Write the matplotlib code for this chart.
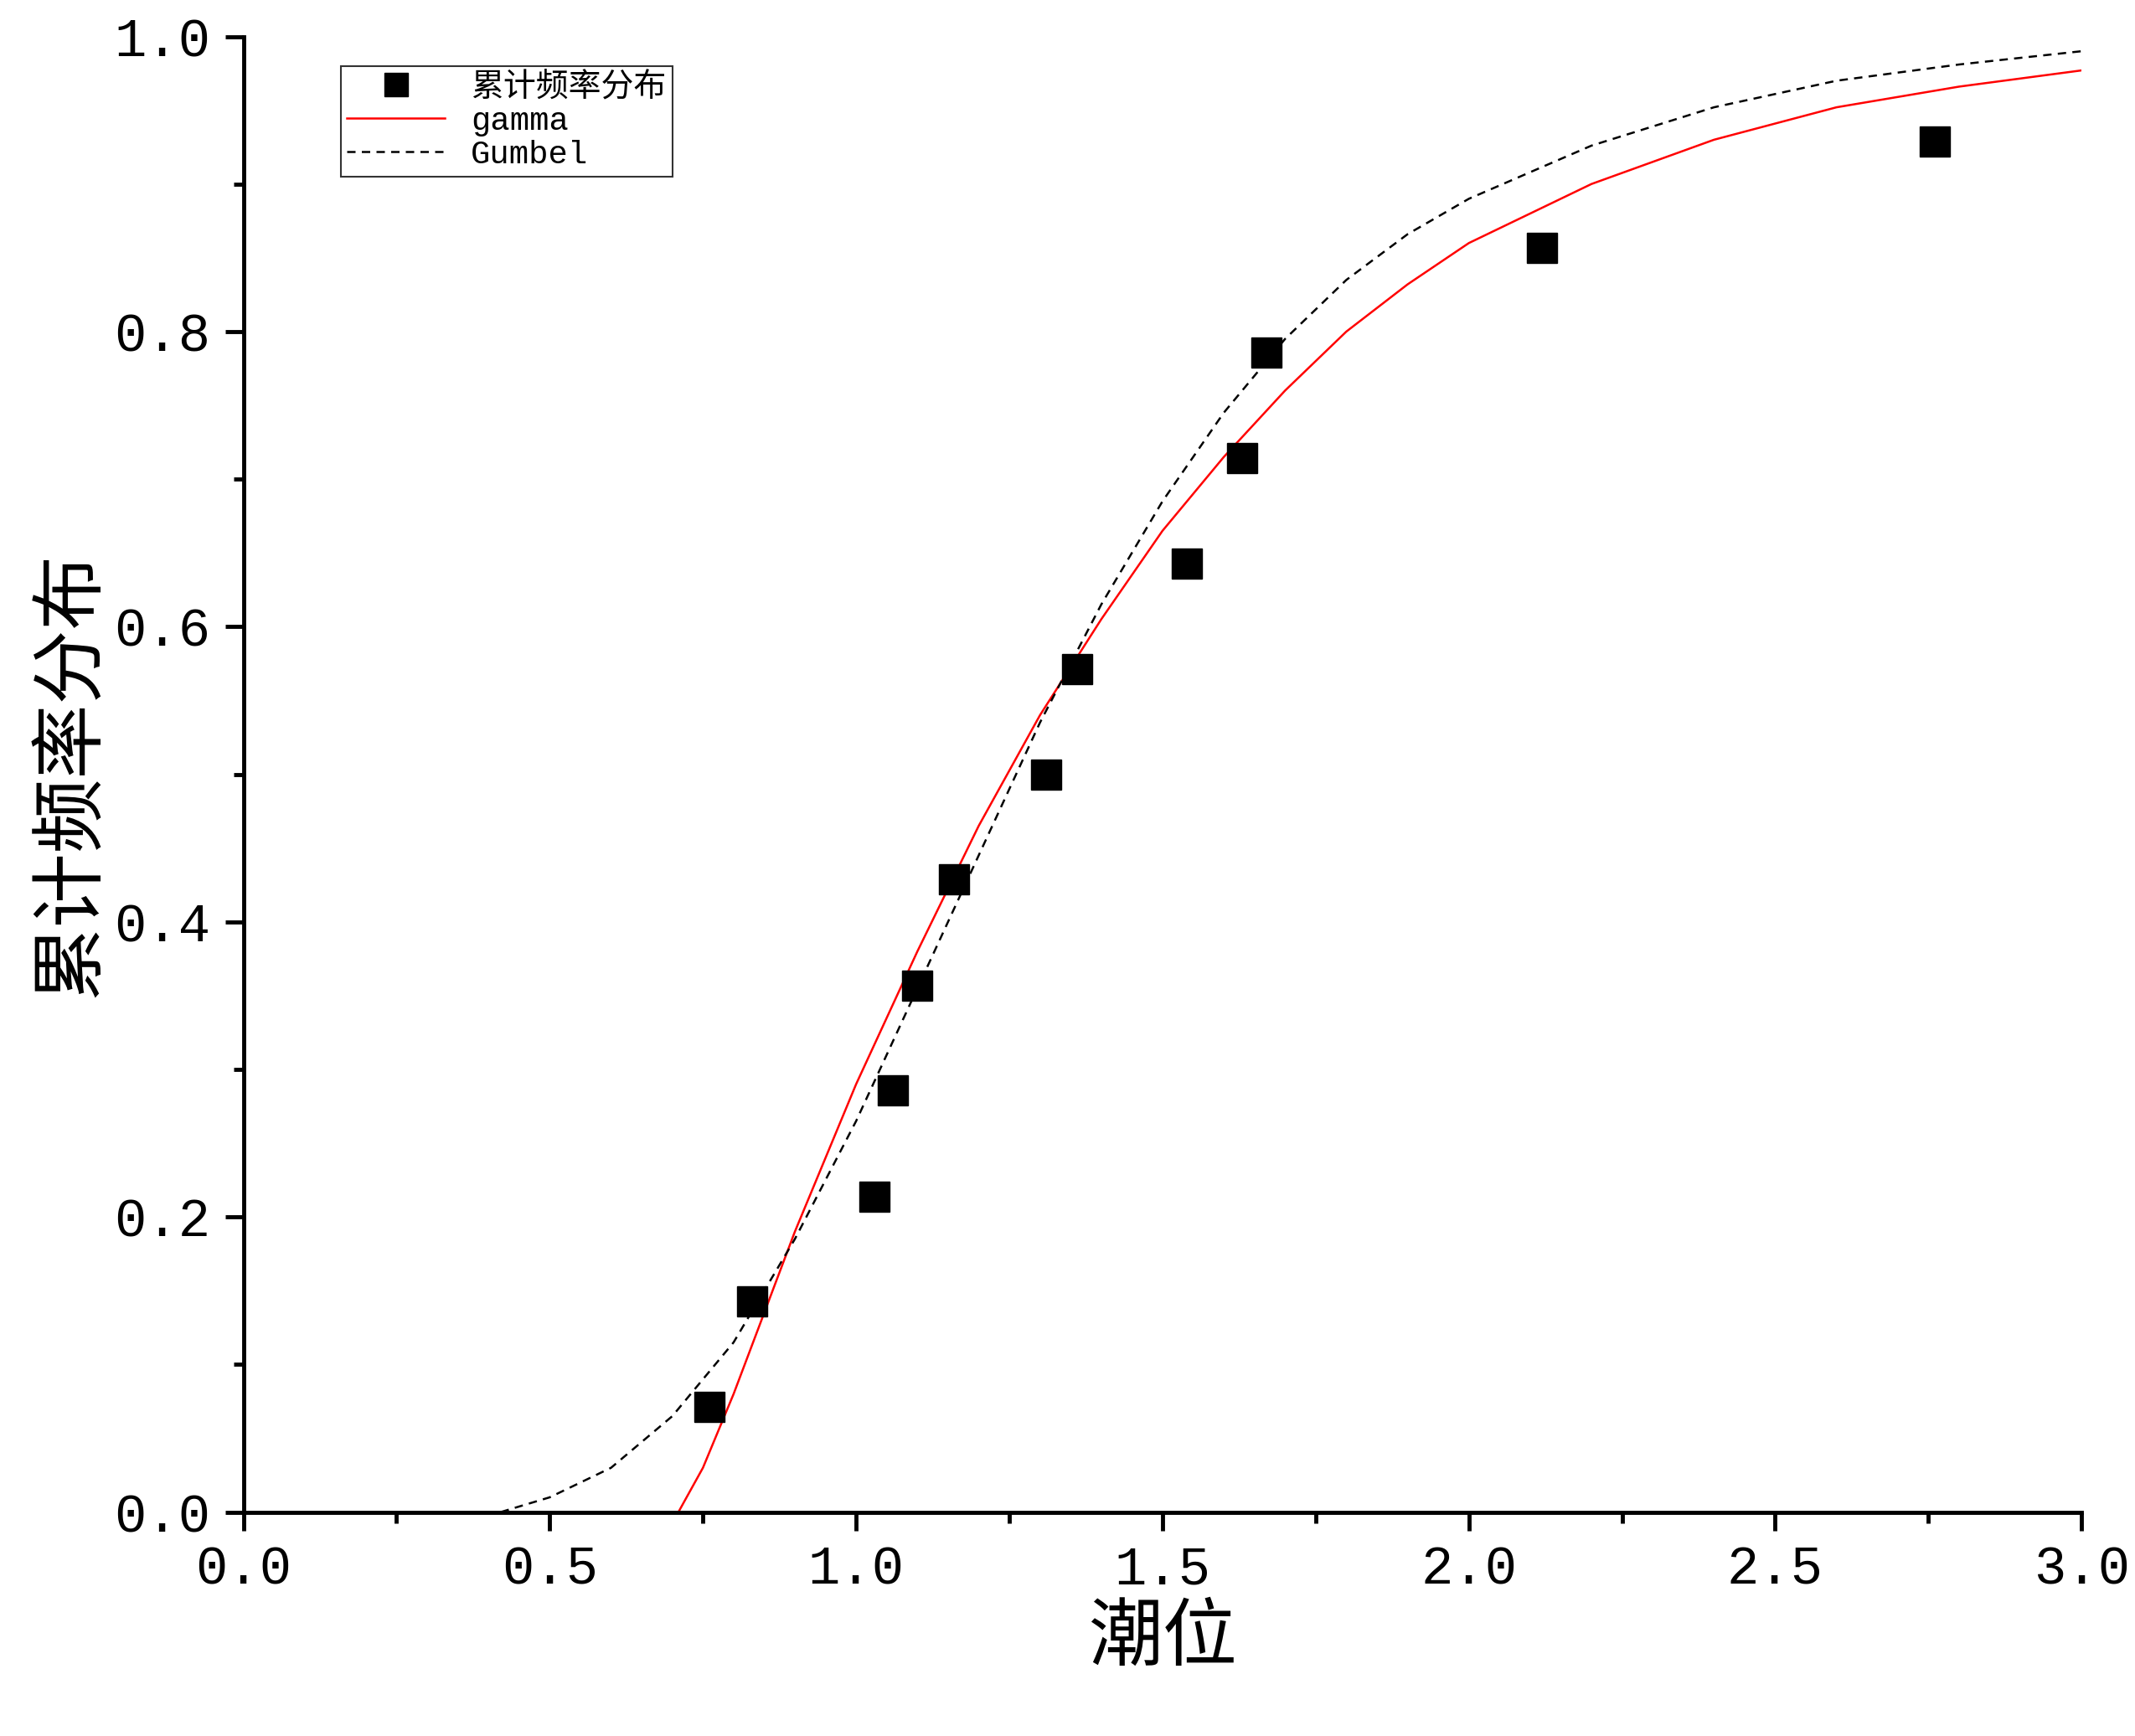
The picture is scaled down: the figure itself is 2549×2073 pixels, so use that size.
import matplotlib.pyplot as plt
from matplotlib.ticker import MultipleLocator

plt.rcParams['font.family'] = ['Liberation Mono', 'Noto Sans CJK SC']

# observed cumulative frequency
obs_x = [0.76, 0.83, 1.03, 1.06, 1.10, 1.16, 1.31, 1.36, 1.54, 1.63, 1.67, 2.12, 2.76]
obs_y = [0.071, 0.143, 0.214, 0.286, 0.357, 0.429, 0.500, 0.571, 0.643, 0.714, 0.786, 0.857, 0.929]

# fitted curves
gamma_x = [0.71, 0.75, 0.8, 0.85, 0.9, 0.95, 1.0, 1.1, 1.2, 1.3, 1.4, 1.5, 1.6, 1.7, 1.8, 1.9, 2.0,
           2.2, 2.4, 2.6, 2.8, 3.0]
gamma_y = [0.0, 0.03, 0.08, 0.135, 0.19, 0.24, 0.29, 0.38, 0.465, 0.54, 0.605, 0.665, 0.715, 0.76,
           0.80, 0.832, 0.86, 0.90, 0.93, 0.952, 0.966, 0.977]
gumbel_x = [0.42, 0.5, 0.6, 0.7, 0.8, 0.9, 1.0, 1.1, 1.2, 1.3, 1.4, 1.5, 1.6, 1.7, 1.8, 1.9, 2.0,
            2.2, 2.4, 2.6, 2.8, 3.0]
gumbel_y = [0.0, 0.01, 0.03, 0.065, 0.115, 0.185, 0.265, 0.355, 0.445, 0.535, 0.615, 0.685, 0.745,
            0.795, 0.835, 0.866, 0.89, 0.926, 0.952, 0.97, 0.981, 0.99]

fig = plt.figure(figsize=(25.49, 20.73), dpi=100)
ax = fig.add_axes([0.114, 0.129, 0.861, 0.85])

ax.plot(obs_x, obs_y, 's', color='black', markersize=26, label='累计频率分布', zorder=3)
ax.plot(gamma_x, gamma_y, '-', color='red', lw=1.8, label='gamma')
ax.plot(gumbel_x, gumbel_y, '--', color='black', lw=1.8, dashes=(4, 3), label='Gumbel')

ax.set_xlim(0, 3.0)
ax.set_ylim(0, 1.0)
ax.xaxis.set_major_locator(MultipleLocator(0.5))
ax.xaxis.set_minor_locator(MultipleLocator(0.25))
ax.yaxis.set_major_locator(MultipleLocator(0.2))
ax.yaxis.set_minor_locator(MultipleLocator(0.1))
ax.tick_params(which='major', length=16, width=3.5, labelsize=46, pad=12)
ax.tick_params(which='minor', length=9, width=3.5)
for s in ['top', 'right']:
    ax.spines[s].set_visible(False)
for s in ['left', 'bottom']:
    ax.spines[s].set_linewidth(3.5)

ax.set_xlabel('潮位', fontsize=64, family=['Noto Sans CJK SC'])
ax.set_ylabel('累计频率分布', fontsize=64, family=['Noto Sans CJK SC'])

leg = ax.legend(loc='upper left', bbox_to_anchor=(0.044, 0.991), fontsize=28, frameon=True,
                fancybox=False, edgecolor='black', handlelength=3, markerscale=0.8,
                borderpad=0.2, labelspacing=0.1)
leg.get_frame().set_linewidth(1.5)
for t in leg.get_texts():
    t.set_family(['Liberation Mono', 'Noto Sans CJK SC'])

fig.savefig('out.png', dpi=100)
